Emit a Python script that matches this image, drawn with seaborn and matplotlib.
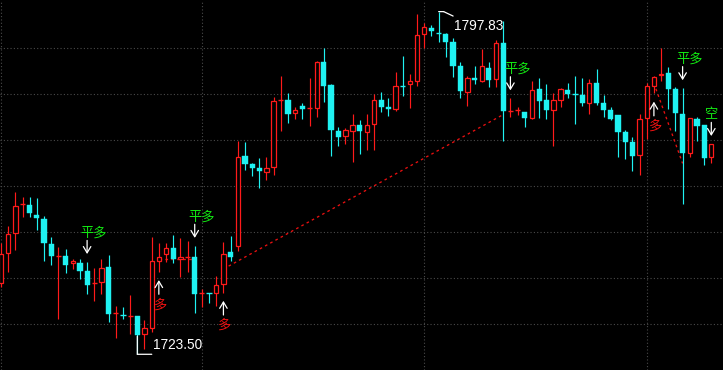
import matplotlib
matplotlib.use("Agg")
import matplotlib.pyplot as plt
import matplotlib.transforms as mtrans
from matplotlib.patches import Rectangle
import seaborn as sns
import pandas as pd

# ---------------- data ----------------
opens = [1738.9, 1745.4, 1749.7, 1755.9, 1755.9, 1753.7, 1752.8, 1747.5, 1744.7, 1744.8,
         1743.2, 1743.3, 1741.6, 1738.9, 1739.1, 1742.4, 1732.3, 1732.2, 1731.8, 1731.8,
         1727.8, 1729.1, 1743.7, 1745.2, 1746.5, 1744.1, 1744.5, 1744.6, 1736.7, 1736.8,
         1736.7, 1738.7, 1745.6, 1747.0, 1766.5, 1764.8, 1763.9, 1763.1, 1764.2, 1778.6,
         1778.7, 1775.9, 1777.4, 1776.9, 1777.0, 1786.9, 1781.9, 1771.9, 1770.9, 1772.0,
         1773.2, 1771.8, 1773.4, 1778.7, 1777.1, 1776.8, 1781.9, 1782.1, 1782.8, 1792.9,
         1794.2, 1793.4, 1793.0, 1791.2, 1786.0, 1780.5, 1783.5, 1782.8, 1785.7, 1783.2,
         1791.0, 1776.2, 1776.3, 1776.0, 1774.8, 1781.0, 1778.7, 1776.5, 1778.7, 1780.8,
         1780.0, 1779.7, 1778.1, 1782.3, 1778.0, 1776.5, 1775.4, 1771.7, 1769.5, 1766.7,
         1774.7, 1781.8, 1784.1, 1784.5, 1781.0, 1775.6, 1767.1, 1774.5, 1773.2, 1766.2]
highs = [1747.7, 1751.3, 1758.6, 1757.6, 1757.6, 1757.3, 1753.5, 1748.9, 1746.8, 1746.3,
         1744.2, 1744.2, 1743.5, 1742.2, 1744.2, 1745.0, 1734.0, 1733.8, 1736.4, 1731.8,
         1730.9, 1748.9, 1747.6, 1747.6, 1749.3, 1748.7, 1748.1, 1747.0, 1737.7, 1736.8,
         1740.5, 1747.9, 1749.2, 1769.8, 1769.5, 1764.9, 1766.1, 1766.3, 1779.3, 1783.9,
         1780.2, 1777.1, 1778.0, 1783.4, 1787.1, 1789.9, 1782.1, 1772.9, 1772.6, 1775.6,
         1774.3, 1775.6, 1779.9, 1780.4, 1779.2, 1784.8, 1788.2, 1784.3, 1797.3, 1795.3,
         1794.9, 1797.83, 1793.3, 1792.2, 1787.0, 1783.9, 1786.0, 1789.7, 1786.9, 1791.7,
         1795.9, 1779.0, 1777.1, 1776.0, 1782.8, 1783.4, 1782.1, 1780.2, 1781.2, 1782.3,
         1783.9, 1783.5, 1783.2, 1785.4, 1779.7, 1777.1, 1775.4, 1772.2, 1770.6, 1775.6,
         1782.3, 1783.9, 1789.9, 1785.9, 1781.5, 1781.2, 1774.7, 1774.9, 1773.2, 1769.1]
lows = [1738.2, 1741.4, 1746.1, 1753.3, 1753.3, 1750.5, 1743.8, 1742.9, 1731.2, 1741.2,
        1742.1, 1739.9, 1736.6, 1735.1, 1736.6, 1730.4, 1727.1, 1731.2, 1728.0, 1723.5,
        1724.6, 1728.4, 1741.4, 1743.6, 1743.4, 1740.2, 1741.4, 1732.5, 1733.8, 1734.7,
        1734.0, 1736.9, 1743.7, 1746.0, 1763.5, 1762.2, 1759.6, 1761.3, 1762.4, 1771.9,
        1773.7, 1774.5, 1774.5, 1773.0, 1775.0, 1778.2, 1766.5, 1768.7, 1769.1, 1765.2,
        1766.9, 1767.8, 1767.8, 1776.1, 1775.2, 1776.3, 1779.5, 1777.0, 1781.8, 1789.9,
        1792.6, 1791.3, 1788.0, 1783.7, 1779.2, 1777.4, 1782.2, 1782.6, 1781.5, 1781.5,
        1769.8, 1775.0, 1775.4, 1772.9, 1774.5, 1774.8, 1774.5, 1768.7, 1777.2, 1779.1,
        1773.4, 1777.4, 1775.6, 1777.6, 1774.9, 1774.3, 1766.4, 1765.9, 1763.3, 1762.4,
        1770.2, 1780.1, 1782.8, 1776.8, 1772.0, 1756.2, 1766.4, 1769.8, 1764.6, 1765.1]
closes = [1745.2, 1749.6, 1755.7, 1756.0, 1754.2, 1753.1, 1747.6, 1744.9, 1744.8, 1742.9,
          1743.8, 1741.6, 1738.6, 1739.0, 1742.2, 1732.3, 1732.4, 1732.1, 1731.9, 1727.7,
          1729.1, 1743.7, 1744.5, 1746.5, 1744.1, 1744.7, 1744.6, 1736.6, 1736.8, 1736.7,
          1738.5, 1745.2, 1744.7, 1766.4, 1764.8, 1764.0, 1763.3, 1763.9, 1778.4, 1778.7,
          1775.6, 1776.5, 1776.7, 1777.0, 1786.9, 1781.7, 1772.1, 1770.6, 1772.1, 1773.2,
          1771.9, 1773.2, 1778.7, 1777.2, 1776.8, 1781.8, 1781.8, 1782.7, 1792.7, 1794.4,
          1793.6, 1793.3, 1791.3, 1786.0, 1780.7, 1783.4, 1783.1, 1786.0, 1783.0, 1791.0,
          1776.3, 1776.3, 1776.4, 1774.8, 1780.8, 1778.5, 1776.5, 1778.7, 1781.0, 1780.0,
          1779.9, 1777.9, 1782.3, 1777.9, 1776.5, 1774.5, 1771.8, 1769.5, 1766.5, 1774.5,
          1781.8, 1783.6, 1784.4, 1781.1, 1775.9, 1767.2, 1774.7, 1773.0, 1766.1, 1769.1]

price_grid = [1730, 1740, 1750, 1760, 1770, 1780, 1790]
time_grid = [0, 28, 59, 90]

exit_bars = [12, 27, 71, 95, 99]
exit_labels = ["平多", "平多", "平多", "平多", "空"]
entry_bars = [22, 31, 91]
entry_labels = ["多", "多", "多"]

trade_start_bar = [22, 31, 91]
trade_start_price = [1744.2, 1742.0, 1782.3]
trade_end_bar = [27, 70, 95]
trade_end_price = [1744.2, 1775.5, 1764.9]

max_bar, max_label = 61, "1797.83"
min_bar, min_label = 19, "1723.50"

# ---------------- style ----------------
UP = "#ff1a1a"
DOWN = "#1ff2f2"
GRID = "#4a4a4a"
GREEN = "#12e812"

sns.set_theme(style="dark", rc={"axes.facecolor": "black", "figure.facecolor": "black",
                                "savefig.facecolor": "black"})
plt.rcParams["font.family"] = ["Liberation Sans", "Noto Sans CJK SC", "DejaVu Sans"]

df = pd.DataFrame({"open": opens, "high": highs, "low": lows, "close": closes})
df["bar"] = range(len(df))

fig = plt.figure(figsize=(7.23, 3.70), dpi=100)
ax = fig.add_axes([0, 0, 1, 1])
ax.set_facecolor("black")
ax.set_xlim(-0.14, 100.63)
ax.set_ylim(1720.09, 1800.35)
ax.axis("off")

for p in price_grid:
    ax.axhline(p, color=GRID, lw=0.8, ls=(0, (1, 2)), zorder=0)
for t in time_grid:
    ax.axvline(t, color=GRID, lw=0.8, ls=(0, (1, 2)), zorder=0)

# trade lines
for x0, p0, x1, p1 in zip(trade_start_bar, trade_start_price, trade_end_bar, trade_end_price):
    ax.plot([x0, x1], [p0, p1], color="#e81010", lw=0.95, ls=(0, (2, 2.5)), zorder=1)

# candles
for r in df.itertuples():
    up = r.close >= r.open
    col = UP if up else DOWN
    ax.vlines(r.bar, r.low, r.high, color=col, lw=0.85, zorder=2)
    body = abs(r.close - r.open)
    if body < 0.15:
        ax.hlines(r.close, r.bar - 0.36, r.bar + 0.36, color=col, lw=1.0, zorder=3)
    elif up:
        ax.add_patch(Rectangle((r.bar - 0.3, r.open), 0.6, body, facecolor="black",
                               edgecolor=col, lw=0.9, zorder=3))
    else:
        ax.add_patch(Rectangle((r.bar - 0.36, r.close), 0.72, body, facecolor=col,
                               edgecolor=col, lw=0.3, zorder=3))

arrow_kw = dict(arrowstyle="->,head_length=0.5,head_width=0.3", color="white", lw=0.9,
                shrinkA=0, shrinkB=0, mutation_scale=9)
cjk = ["Noto Sans CJK SC", "DejaVu Sans"]

tip_above = mtrans.offset_copy(ax.transData, fig=fig, x=0, y=5.8, units="points")
tip_below = mtrans.offset_copy(ax.transData, fig=fig, x=0, y=-6.0, units="points")

for b, lab in zip(exit_bars, exit_labels):
    h = highs[b]
    ax.annotate("", xy=(b, h), xycoords=tip_above, xytext=(0, 9.8),
                textcoords="offset points", arrowprops=arrow_kw, zorder=5)
    if len(lab) == 1:
        ax.annotate(lab, xy=(b, h), xytext=(0, 21), textcoords="offset points",
                    ha="center", va="center", color=GREEN, fontsize=9.5, family=cjk)
    else:
        ax.annotate(lab, xy=(b, h), xytext=(-4.6, 21), textcoords="offset points",
                    ha="left", va="center", color=GREEN, fontsize=9.5, family=cjk)

for b, lab in zip(entry_bars, entry_labels):
    lo = lows[b]
    ax.annotate("", xy=(b, lo), xycoords=tip_below, xytext=(0, -10.2),
                textcoords="offset points", arrowprops=arrow_kw, zorder=5)
    ax.annotate(lab, xy=(b, lo), xytext=(0.4, -23.8), textcoords="offset points",
                ha="center", va="center", color="#f01212", fontsize=9.5, family=cjk)

# extreme value labels
line_kw = dict(arrowstyle="-", color="white", lw=0.9, shrinkA=0, shrinkB=0)
hmax = highs[max_bar]
ax.annotate("", xy=(max_bar, hmax), xytext=(3.6, 0), textcoords="offset points",
            arrowprops=line_kw, zorder=6)
seg2 = mtrans.offset_copy(ax.transData, fig=fig, x=3.6, y=0, units="points")
ax.annotate("", xy=(max_bar, hmax), xycoords=seg2, xytext=(6.8, -3.2),
            textcoords="offset points", arrowprops=line_kw, zorder=6)
ax.annotate(max_label, xy=(max_bar, hmax), xytext=(11.3, -10.6), textcoords="offset points",
            ha="left", va="center", color="white", fontsize=9.8)

lmin = lows[min_bar]
ax.annotate("", xy=(min_bar, lmin), xytext=(0, 13), textcoords="offset points",
            arrowprops=line_kw, zorder=6)
ax.annotate("", xy=(min_bar, lmin), xytext=(10.4, 0), textcoords="offset points",
            arrowprops=line_kw, zorder=6)
ax.annotate(min_label, xy=(min_bar, lmin), xytext=(11.0, 6.5), textcoords="offset points",
            ha="left", va="center", color="white", fontsize=9.8)

fig.savefig("out.png", dpi=100, facecolor="black")
